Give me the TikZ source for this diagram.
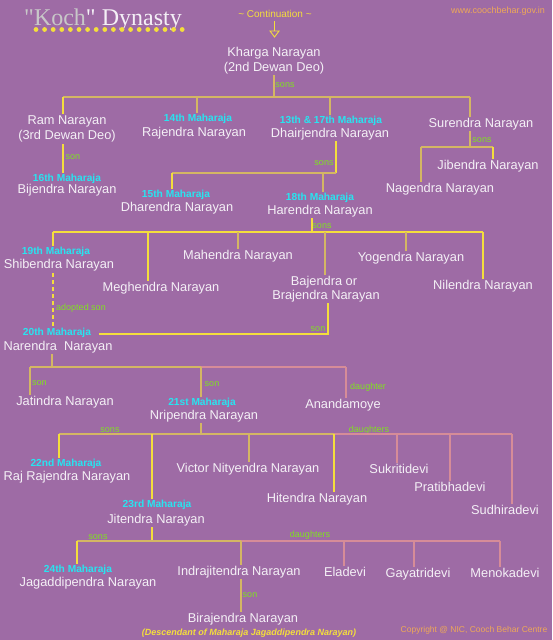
\documentclass[tikz,border=0pt]{standalone}
\usepackage{fontspec}
\setmainfont{Liberation Sans}
\newfontfamily\titlefont{Liberation Serif}
\definecolor{bgc}{RGB}{158,107,165}
\definecolor{namec}{RGB}{244,240,246}
\definecolor{cyanc}{RGB}{40,228,240}
\definecolor{greenc}{RGB}{128,226,32}
\definecolor{tanc}{RGB}{212,182,100}
\definecolor{yelc}{RGB}{244,222,60}
\definecolor{pinkc}{RGB}{214,140,152}
\definecolor{orangec}{RGB}{238,168,88}
\definecolor{greyc}{RGB}{200,200,200}
\begin{document}
\begin{tikzpicture}[x=1pt,y=-1pt,
  nm/.style={text=namec,font=\fontsize{12.8}{15}\selectfont,inner sep=1pt,anchor=base},
  ttl/.style={text=cyanc,font=\bfseries\fontsize{10.2}{12}\selectfont,inner sep=1pt,anchor=base},
  lbl/.style={text=greenc,font=\fontsize{9}{11}\selectfont,inner sep=0pt,anchor=base},
  tl/.style={draw=tanc,line width=1.4pt},
  yl/.style={draw=yelc,line width=1.2pt},
  pl/.style={draw=pinkc,line width=1.2pt}]
\useasboundingbox (0,0) rectangle (552,640);
\fill[bgc] (0,0) rectangle (552,640);

% title and header
\node[anchor=base,inner sep=0pt,font=\titlefont\fontsize{24}{26}\selectfont] (title) at (103,25) {\textcolor{greyc}{"Koch}\textcolor{namec}{" Dynasty}};
\foreach \i in {0,...,17} \fill[yelc] (36+\i*8.6,29.5) circle (2.4);
\node[anchor=base,inner sep=0pt,text=yelc,font=\fontsize{10}{12}\selectfont] (cont) at (275,17) {\textasciitilde{} Continuation \textasciitilde};
\coordinate (ca) at (274.5,21);
\coordinate (cb) at (274.5,31);
\draw[yelc,line width=0.9pt] (ca) -- (cb);
\draw[yelc,line width=0.9pt] (cb) ++(-4.5,0) -- ++(9,0) -- ++(-4.5,6) -- cycle;
\node[anchor=base,inner sep=0pt,text=orangec,font=\fontsize{9}{11}\selectfont] (web) at (498,13) {www.coochbehar.gov.in};

% generation: Kharga
\node[nm] (kh1) at (274,56.5) {Kharga Narayan};
\node[nm] (kh2) at (274,71.5) {(2nd Dewan Deo)};
\node[lbl] (l1) at (285,87.2) {sons};
\coordinate (kL) at (63,97);
\coordinate (kR) at (470,97);
\coordinate (k2) at (197,97);
\coordinate (k3) at (330,97);

\node[nm] (ram1) at (67,124.5) {Ram Narayan};
\node[nm] (ram2) at (67,139) {(3rd Dewan Deo)};
\node[lbl] (l2) at (73,159.2) {son};
\node[ttl] (m16) at (67,181.7) {16th Maharaja};
\node[nm] (bij) at (67,193.5) {Bijendra Narayan};
\node[ttl] (m14) at (198,121.7) {14th Maharaja};
\node[nm] (raj) at (194,136.5) {Rajendra Narayan};
\node[ttl] (m13) at (331,123.7) {13th \& 17th Maharaja};
\node[nm] (dha) at (330,137.5) {Dhairjendra Narayan};
\node[nm] (sur) at (481,127.5) {Surendra Narayan};

\draw[tl] (kh2.south) -- (kh2.south |- kL);
\draw[tl] (kL) -- (kR);
\draw[yl] (kL) -- (kL |- ram1.north);
\draw[tl] (k2) -- (k2 |- m14.north);
\draw[tl] (k3) -- (k3 |- m13.north);
\draw[tl] (kR) -- (kR |- sur.north);
\coordinate (rs) at (63,144);
\draw[yl] (rs) -- (rs |- m16.north);

% Dhairjendra sons
\coordinate (d1) at (336,173);
\coordinate (d2) at (172,173);
\coordinate (d3) at (323,173);
\node[lbl] (l3) at (324,165.2) {sons};
\node[ttl] (m15) at (176,197.7) {15th Maharaja};
\node[nm] (dhr) at (177,211.5) {Dharendra Narayan};
\node[ttl] (m18) at (320,200.7) {18th Maharaja};
\node[nm] (har) at (320,214.5) {Harendra Narayan};
\draw[yl] (d1 |- dha.south) -- (d1);
\draw[tl] (d1) -- (d2);
\draw[yl] (d2) -- (d2 |- m15.north);
\draw[tl] (d3) -- (d3 |- m18.north);

% Surendra sons
\coordinate (s1) at (470,147);
\coordinate (s2) at (421,147);
\coordinate (s3) at (493,147);
\node[lbl] (l4) at (482,142.2) {sons};
\node[nm] (jib) at (488,169.5) {Jibendra Narayan};
\node[nm] (nag) at (440,192.5) {Nagendra Narayan};
\draw[tl] (s1 |- sur.south) -- (s1);
\draw[tl] (s2) -- (s3);
\draw[tl] (s2) -- (s2 |- nag.north);
\draw[yl] (s3) -- (s3 |- jib.north);

% Harendra sons
\coordinate (h0) at (312,232);
\coordinate (hL) at (53,232);
\coordinate (hR) at (483,232);
\coordinate (h2) at (148,232);
\coordinate (h3) at (238,232);
\coordinate (h4) at (325,232);
\coordinate (h5) at (406,232);
\node[lbl] (l5) at (322,228.2) {sons};
\node[ttl] (m19) at (56,254.7) {19th Maharaja};
\node[nm] (shi) at (59,268.5) {Shibendra Narayan};
\node[nm] (mah) at (238,259.5) {Mahendra Narayan};
\node[nm] (meg) at (161,291.5) {Meghendra Narayan};
\node[nm] (baj1) at (324,285.5) {Bajendra or};
\node[nm] (baj2) at (326,299.5) {Brajendra Narayan};
\node[nm] (yog) at (411,261.5) {Yogendra Narayan};
\node[nm] (nil) at (483,289.5) {Nilendra Narayan};
\draw[yl] (h0 |- har.south) -- (h0);
\draw[yl] (hL) -- (hR);
\draw[yl] (hL) -- (hL |- m19.north);
\draw[yl] (h2) -- (h2 |- meg.north);
\draw[tl] (h3) -- (h3 |- mah.north);
\draw[tl] (h4) -- (h4 |- baj1.north);
\draw[tl] (h5) -- (h5 |- yog.north);
\draw[yl] (hR) -- (hR |- nil.north);

% adoption
\node[ttl] (m20) at (57,335.7) {20th Maharaja};
\node[nm] (nar) at (58,350.5) {Narendra\ \ Narayan};
\node[lbl] (l6) at (81,310.2) {adopted son};
\coordinate (a1) at (53,273);
\draw[yl,dashed,dash pattern=on 4pt off 3pt] (a1) -- (a1 |- m20.north);
\coordinate (b1) at (328,334);
\coordinate (b2) at (99,334);
\node[lbl] (l7) at (318,331.2) {son};
\draw[yl] (b1 |- baj2.south) -- (b1) -- (b2);

% Narendra children
\coordinate (n0) at (52,367);
\coordinate (nL) at (30,367);
\coordinate (nM) at (201,367);
\coordinate (nR) at (346,367);
\node[lbl] (l8) at (39.5,385.2) {son};
\node[lbl] (l9) at (212,386.2) {son};
\node[lbl] (l10) at (368,389.2) {daughter};
\node[nm] (jat) at (65,405.5) {Jatindra Narayan};
\node[ttl] (m21) at (202,405.7) {21st Maharaja};
\node[nm] (nri) at (204,419.5) {Nripendra Narayan};
\node[nm] (ana) at (343,408.5) {Anandamoye};
\draw[tl] (n0 |- nar.south) -- (n0);
\draw[tl] (nL) -- (nM);
\draw[pl] (nM) -- (nR);
\draw[tl] (nL) -- (nL |- jat.north);
\draw[tl] (nM) -- (nM |- m21.north);
\draw[pl] (nR) -- (nR |- ana.north);

% Nripendra children
\coordinate (p0) at (201,434);
\coordinate (pL) at (59,434);
\coordinate (p2) at (152,434);
\coordinate (p3) at (249,434);
\coordinate (p4) at (334,434);
\coordinate (p5) at (397,434);
\coordinate (p6) at (450,434);
\coordinate (pR) at (512,434);
\node[lbl] (l11) at (110,432.2) {sons};
\node[lbl] (l12) at (369,432.2) {daughters};
\node[ttl] (m22) at (66,466.7) {22nd Maharaja};
\node[nm] (rr) at (67,480.5) {Raj Rajendra Narayan};
\node[nm] (vic) at (248,472.5) {Victor Nityendra Narayan};
\node[nm] (hit) at (317,502.5) {Hitendra Narayan};
\node[nm] (suk) at (399,473.5) {Sukritidevi};
\node[nm] (pra) at (450,491.5) {Pratibhadevi};
\node[nm] (sud) at (505,514.5) {Sudhiradevi};
\node[ttl] (m23) at (157,507.7) {23rd Maharaja};
\node[nm] (jit) at (156,523.5) {Jitendra Narayan};
\draw[tl] (p0 |- nri.south) -- (p0);
\draw[tl] (pL) -- (p4);
\draw[pl] (p4) -- (pR);
\draw[yl] (pL) -- (pL |- m22.north);
\draw[yl] (p2) -- (p2 |- m23.north);
\draw[tl] (p3) -- (p3 |- vic.north);
\draw[yl] (p4) -- (p4 |- hit.north);
\draw[pl] (p5) -- (p5 |- suk.north);
\draw[pl] (p6) -- (p6 |- pra.north);
\draw[pl] (pR) -- (pR |- sud.north);

% Jitendra children
\coordinate (q0) at (152,541);
\coordinate (qL) at (77,541);
\coordinate (q2) at (241,541);
\coordinate (q3) at (344,541);
\coordinate (q4) at (414,541);
\coordinate (qR) at (500,541);
\node[lbl] (l13) at (98,539.2) {sons};
\node[lbl] (l14) at (310,537.2) {daughters};
\node[ttl] (m24) at (78,572.7) {24th Maharaja};
\node[nm] (jag) at (88,586.5) {Jagaddipendra Narayan};
\node[nm] (ind) at (239,575.5) {Indrajitendra Narayan};
\node[nm] (ela) at (345,576.5) {Eladevi};
\node[nm] (gay) at (418,577.5) {Gayatridevi};
\node[nm] (men) at (505,577.5) {Menokadevi};
\draw[yl] (q0 |- jit.south) -- (q0);
\draw[tl] (qL) -- (q2);
\draw[pl] (q2) -- (qR);
\draw[yl] (qL) -- (qL |- m24.north);
\draw[tl] (q2) -- (q2 |- ind.north);
\draw[pl] (q3) -- (q3 |- ela.north);
\draw[pl] (q4) -- (q4 |- gay.north);
\draw[pl] (qR) -- (qR |- men.north);

% Indrajitendra son
\node[lbl] (l15) at (250,597.2) {son};
\node[nm] (bir) at (243,622.5) {Birajendra Narayan};
\coordinate (i0) at (241,580);
\draw[tl] (i0 |- ind.south) -- (i0 |- bir.north);
\node[anchor=base,inner sep=0pt,text=yelc,font=\bfseries\itshape\fontsize{9}{11}\selectfont] (desc) at (249,635.3) {(Descendant of Maharaja Jagaddipendra Narayan)};
\node[anchor=base,inner sep=0pt,text=orangec,font=\fontsize{8.5}{10}\selectfont] (copy) at (474,632) {Copyright @ NIC, Cooch Behar Centre};
\end{tikzpicture}
\end{document}
